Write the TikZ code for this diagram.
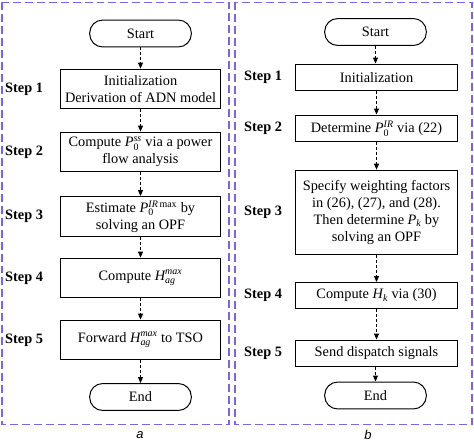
\documentclass[tikz,border=0pt]{standalone}
\usepackage{fontspec}
\setmainfont{Liberation Serif}
\setsansfont{Liberation Sans}
\usetikzlibrary{arrows.meta}
\definecolor{frame}{RGB}{125,100,230}
\tikzset{
  every node/.style={font=\fontsize{14.4}{17}\selectfont, inner sep=0pt},
  stepbox/.style={draw, line width=1pt, align=center, minimum height=#1},
  stepbox/.default=40,
  term/.style={draw, line width=1pt, rounded corners=13pt, minimum width=102, minimum height=27},
  steplbl/.style={font=\fontsize{14.4}{17}\selectfont\bfseries, anchor=west},
  flow/.style={-{Triangle[length=6pt,width=5pt]}, dashed, dash pattern=on 3pt off 2pt, line width=0.9pt},
  panel/.style={draw=frame, line width=1.6pt, dash pattern=on 8pt off 4pt},
  captxt/.style={font=\fontsize{13}{15}\sffamily\itshape}
}
\begin{document}
\begin{tikzpicture}[x=1bp,y=-1bp]
\useasboundingbox (0,0) rectangle (474,443);
\fill[white] (0,0) rectangle (474,443);
\draw[panel] (2,2.5) rectangle (229,424.5);
\draw[panel] (235,2.5) rectangle (472,424.5);
% left panel
\node[term] (ls) at (140.5,33.5) {Start};
\node[stepbox, minimum width=161] (l1) at (140.5,89) {Initialization\\Derivation of ADN model};
\node[stepbox, minimum width=161] (l2) at (140.5,152) {Compute $\mathit{P}_{\mathrm{0}}^{\mathit{ss}}$ via a power\\flow analysis};
\node[stepbox, minimum width=161] (l3) at (140.5,216.5) {Estimate $\mathit{P}_{\mathrm{0}}^{\mathit{IR}\,\mathrm{max}}$ by\\solving an OPF};
\node[stepbox, minimum width=161] (l4) at (140.5,278) {Compute $\mathit{H}_{\mathit{ag}}^{\mathit{max}}$};
\node[stepbox, minimum width=161] (l5) at (140.5,340) {Forward $\mathit{H}_{\mathit{ag}}^{\mathit{max}}$ to TSO};
\node[term] (le) at (140.5,397) {End};
\draw[flow] (ls) -- (l1);
\draw[flow] (l1) -- (l2);
\draw[flow] (l2) -- (l3);
\draw[flow] (l3) -- (l4);
\draw[flow] (l4) -- (l5);
\draw[flow] (l5) -- (le);
\node[steplbl] (ll1) at (5,89) {Step 1};
\node[steplbl] (ll2) at (5,152) {Step 2};
\node[steplbl] (ll3) at (5,216.5) {Step 3};
\node[steplbl] (ll4) at (5,278) {Step 4};
\node[steplbl] (ll5) at (5,340) {Step 5};
% right panel
\node[term] (rs) at (375.5,32) {Start};
\node[stepbox=27, minimum width=163] (r1) at (376.5,77.5) {Initialization};
\node[stepbox=27, minimum width=163] (r2) at (376.5,128.5) {Determine $\mathit{P}_{\mathrm{0}}^{\mathit{IR}}$ via (22)};
\node[stepbox=85, minimum width=163] (r3) at (376.5,212.5) {Specify weighting factors\\in (26), (27), and (28).\\Then determine $\mathit{P}_{\mathit{k}}$ by\\solving an OPF};
\node[stepbox=26, minimum width=163] (r4) at (376.5,295.5) {Compute $\mathit{H}_{\mathit{k}}$ via (30)};
\node[stepbox=27, minimum width=163] (r5) at (376.5,353.5) {Send dispatch signals};
\node[term] (re) at (375.5,395.5) {End};
\draw[flow] (rs) -- (rs |- r1.north);
\draw[flow] (r1) -- (r2);
\draw[flow] (r2) -- (r3);
\draw[flow] (r3) -- (r4);
\draw[flow] (r4) -- (r5);
\draw[flow] (r5.south -| re) -- (re);
\node[steplbl] (rl1) at (244,77.5) {Step 1};
\node[steplbl] (rl2) at (244,128.5) {Step 2};
\node[steplbl] (rl3) at (244,212.5) {Step 3};
\node[steplbl] (rl4) at (244,295.5) {Step 4};
\node[steplbl] (rl5) at (244,353.5) {Step 5};
\node[captxt] (ca) at (140,435) {a};
\node[captxt] (cb) at (368,435) {b};
\end{tikzpicture}
\end{document}
